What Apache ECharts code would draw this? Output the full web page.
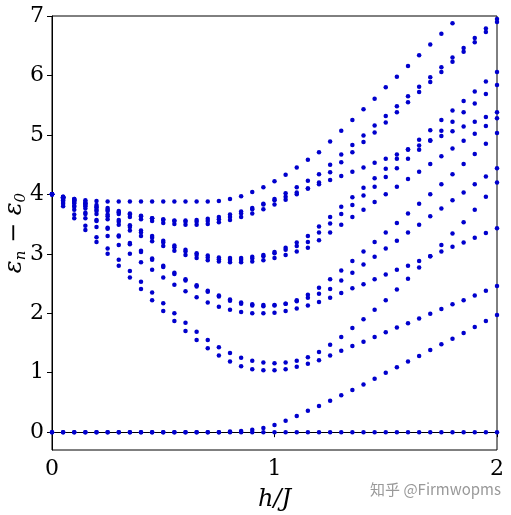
<!DOCTYPE html>
<html>
<head>
<meta charset="utf-8">
<script src="https://cdn.jsdelivr.net/npm/echarts@6/dist/echarts.min.js"></script>
<style>html,body{margin:0;padding:0;background:#fff}#main{width:511px;height:515px}</style>
</head>
<body>
<div id="main"></div>
<script>
// h/J grid
var hs = [0,0.05,0.1,0.15,0.2,0.25,0.3,0.35,0.4,0.45,0.5,0.55,0.6,0.65,0.7,0.75,0.8,0.85,0.9,0.95,
          1,1.05,1.1,1.15,1.2,1.25,1.3,1.35,1.4,1.45,1.5,1.55,1.6,1.65,1.7,1.75,1.8,1.85,1.9,1.95,2];

// energy levels
var ground0 = [0,0,0,0,0,0,0,0,0,0,0,0,0,0,0,0,0,0,0,0,0,0,0,0,0,0,0,0,0,0,0,0,0,0,0,0,0,0,0,0,0];
var groundA = [0,0,0,0,0,0,0,0,0,0,0,0,0,0,0,0,0.01,0.02,0.04,0.07,0.12,0.19,0.27,0.36,0.44,0.53,0.62,0.71,0.8,0.9,1.0,1.09,1.19,1.28,1.38,1.48,1.57,1.67,1.77,1.87,1.97];
var lvB1 = [4,3.8,3.6,3.4,3.2,3.0,2.8,2.6,2.41,2.22,2.04,1.87,1.7,1.55,1.41,1.29,1.19,1.11,1.06,1.04,1.04,1.06,1.1,1.15,1.21,1.29,1.37,1.45,1.52,1.6,1.68,1.76,1.83,1.91,1.99,2.07,2.15,2.22,2.3,2.38,2.46];
var lvB2 = [4,3.84,3.66,3.47,3.28,3.09,2.9,2.71,2.53,2.35,2.17,2.0,1.84,1.69,1.55,1.43,1.33,1.25,1.2,1.17,1.16,1.17,1.2,1.26,1.35,1.47,1.6,1.75,1.9,2.06,2.22,2.4,2.58,2.77,2.96,3.15,3.34,3.53,3.74,3.96,4.2];
var lvC1 = [4,3.87,3.74,3.6,3.45,3.3,3.15,3.0,2.86,2.73,2.6,2.48,2.37,2.27,2.18,2.11,2.06,2.02,2.0,2.0,2.01,2.04,2.08,2.13,2.19,2.26,2.34,2.42,2.49,2.57,2.65,2.73,2.8,2.88,2.96,3.04,3.12,3.19,3.27,3.35,3.43];
var lvC2 = [4,3.9,3.79,3.67,3.55,3.42,3.29,3.16,3.03,2.9,2.78,2.66,2.55,2.45,2.36,2.28,2.21,2.16,2.13,2.12,2.13,2.16,2.22,2.31,2.43,2.57,2.72,2.88,3.04,3.2,3.36,3.52,3.68,3.84,4.0,4.17,4.34,4.51,4.68,4.85,5.03];
var lvC3 = [4,3.92,3.81,3.69,3.57,3.44,3.31,3.18,3.05,2.92,2.8,2.68,2.57,2.47,2.38,2.3,2.23,2.18,2.15,2.14,2.14,2.16,2.2,2.26,2.33,2.41,2.55,2.68,2.82,2.95,3.09,3.22,3.36,3.49,3.63,3.76,3.9,4.03,4.17,4.3,4.44];
var lvD1 = [4,3.93,3.85,3.76,3.67,3.58,3.49,3.39,3.3,3.21,3.13,3.05,2.98,2.93,2.89,2.87,2.86,2.86,2.87,2.89,2.93,2.98,3.04,3.1,3.23,3.36,3.49,3.62,3.74,3.87,4.0,4.13,4.26,4.38,4.51,4.64,4.77,4.9,5.02,5.15,5.28];
var lvD2 = [4,3.95,3.89,3.82,3.74,3.66,3.57,3.48,3.39,3.3,3.22,3.14,3.07,3.01,2.97,2.94,2.93,2.93,2.95,2.98,3.03,3.1,3.19,3.3,3.46,3.62,3.79,3.95,4.11,4.27,4.43,4.6,4.76,4.92,5.08,5.25,5.41,5.57,5.73,5.9,6.06];
var lvD3 = [4,3.94,3.87,3.8,3.72,3.63,3.54,3.45,3.36,3.27,3.19,3.11,3.04,2.98,2.94,2.91,2.9,2.9,2.92,2.96,3.01,3.07,3.13,3.2,3.36,3.51,3.67,3.82,3.98,4.13,4.29,4.44,4.6,4.75,4.91,5.07,5.22,5.38,5.53,5.69,5.84];
var lvE1 = [4,3.95,3.9,3.84,3.78,3.72,3.67,3.62,3.58,3.55,3.52,3.5,3.49,3.49,3.5,3.53,3.57,3.62,3.68,3.75,3.83,3.91,4.0,4.1,4.2,4.37,4.54,4.71,4.88,5.04,5.21,5.38,5.55,5.72,5.89,6.06,6.23,6.4,6.56,6.73,6.9];
var lvE2 = [4,3.96,3.92,3.87,3.82,3.77,3.72,3.68,3.64,3.6,3.57,3.55,3.54,3.54,3.55,3.58,3.62,3.68,3.75,3.83,3.92,4.02,4.12,4.23,4.34,4.5,4.67,4.83,4.99,5.16,5.32,5.48,5.65,5.81,5.97,6.14,6.3,6.46,6.63,6.79,6.95];
var lvE3 = [4,3.96,3.91,3.85,3.79,3.74,3.7,3.66,3.63,3.6,3.58,3.56,3.56,3.57,3.59,3.62,3.66,3.71,3.77,3.84,3.9,3.96,4.03,4.1,4.17,4.24,4.31,4.38,4.45,4.53,4.6,4.67,4.75,4.82,4.9,4.98,5.06,5.14,5.22,5.3,5.38];
var lvF = [4,3.95,3.92,3.9,3.89,3.88,3.88,3.88,3.88,3.88,3.88,3.88,3.88,3.88,3.88,3.89,3.92,3.97,4.04,4.12,4.22,4.33,4.45,4.58,4.71,4.89,5.07,5.25,5.43,5.61,5.8,5.98,6.16,6.34,6.52,6.7,6.88,null,null,null,null];

var levels = [ground0, groundA, lvB1, lvB2, lvC1, lvC2, lvC3, lvD1, lvD2, lvD3, lvE1, lvE2, lvE3, lvF];
var yTicks = [0, 1, 2, 3, 4, 5, 6, 7];

var chart = echarts.init(document.getElementById('main'));
var font = 'DejaVu Serif';

var series = levels.map(function (lv) {
    return {
        type: 'scatter',
        symbolSize: 4.5,
        itemStyle: {color: '#0000cd', opacity: 1},
        data: hs.map(function (h, i) { return lv[i] == null ? null : [h, lv[i]]; })
    };
});

chart.setOption({
    animation: false,
    grid: {left: 52, right: 14, top: 16, bottom: 65, outerBoundsMode: 'none', containLabel: false,
           show: true, borderColor: '#000', borderWidth: 1},
    xAxis: {
        type: 'value', min: 0, max: 2, interval: 1,
        name: 'h/J', nameLocation: 'middle', nameGap: 38,
        nameTextStyle: {fontFamily: font, fontStyle: 'italic', fontSize: 24, color: '#000'},
        axisLine: {lineStyle: {color: '#000'}},
        axisTick: {length: 5, lineStyle: {color: '#000'}},
        axisLabel: {fontFamily: font, fontSize: 22, color: '#000', margin: 8},
        splitLine: {show: false}
    },
    yAxis: {
        type: 'value', min: -0.3, max: 7,
        axisLine: {lineStyle: {color: '#000'}},
        axisTick: {length: 5, customValues: yTicks, lineStyle: {color: '#000'}},
        axisLabel: {fontFamily: font, fontSize: 22, color: '#000', margin: 8, customValues: yTicks},
        splitLine: {show: false}
    },
    graphic: [{
        type: 'text', x: 15, y: 233, rotation: Math.PI / 2,
        style: {
            text: '{i|ε}{s|n} − {i|ε}{s|0}', align: 'center', verticalAlign: 'middle',
            fill: '#000', font: '24px "DejaVu Serif"',
            rich: {i: {fontFamily: font, fontStyle: 'italic', fontSize: 24},
                   s: {fontFamily: font, fontStyle: 'italic', fontSize: 15, padding: [12, 0, 0, 0]}}
        }
    }, {
        type: 'text', right: 10, bottom: 18,
        style: {text: '知乎 @Firmwopms', fill: '#999', font: '15px "Noto Sans CJK SC"'}
    }],
    series: series
});
</script>
</body>
</html>
